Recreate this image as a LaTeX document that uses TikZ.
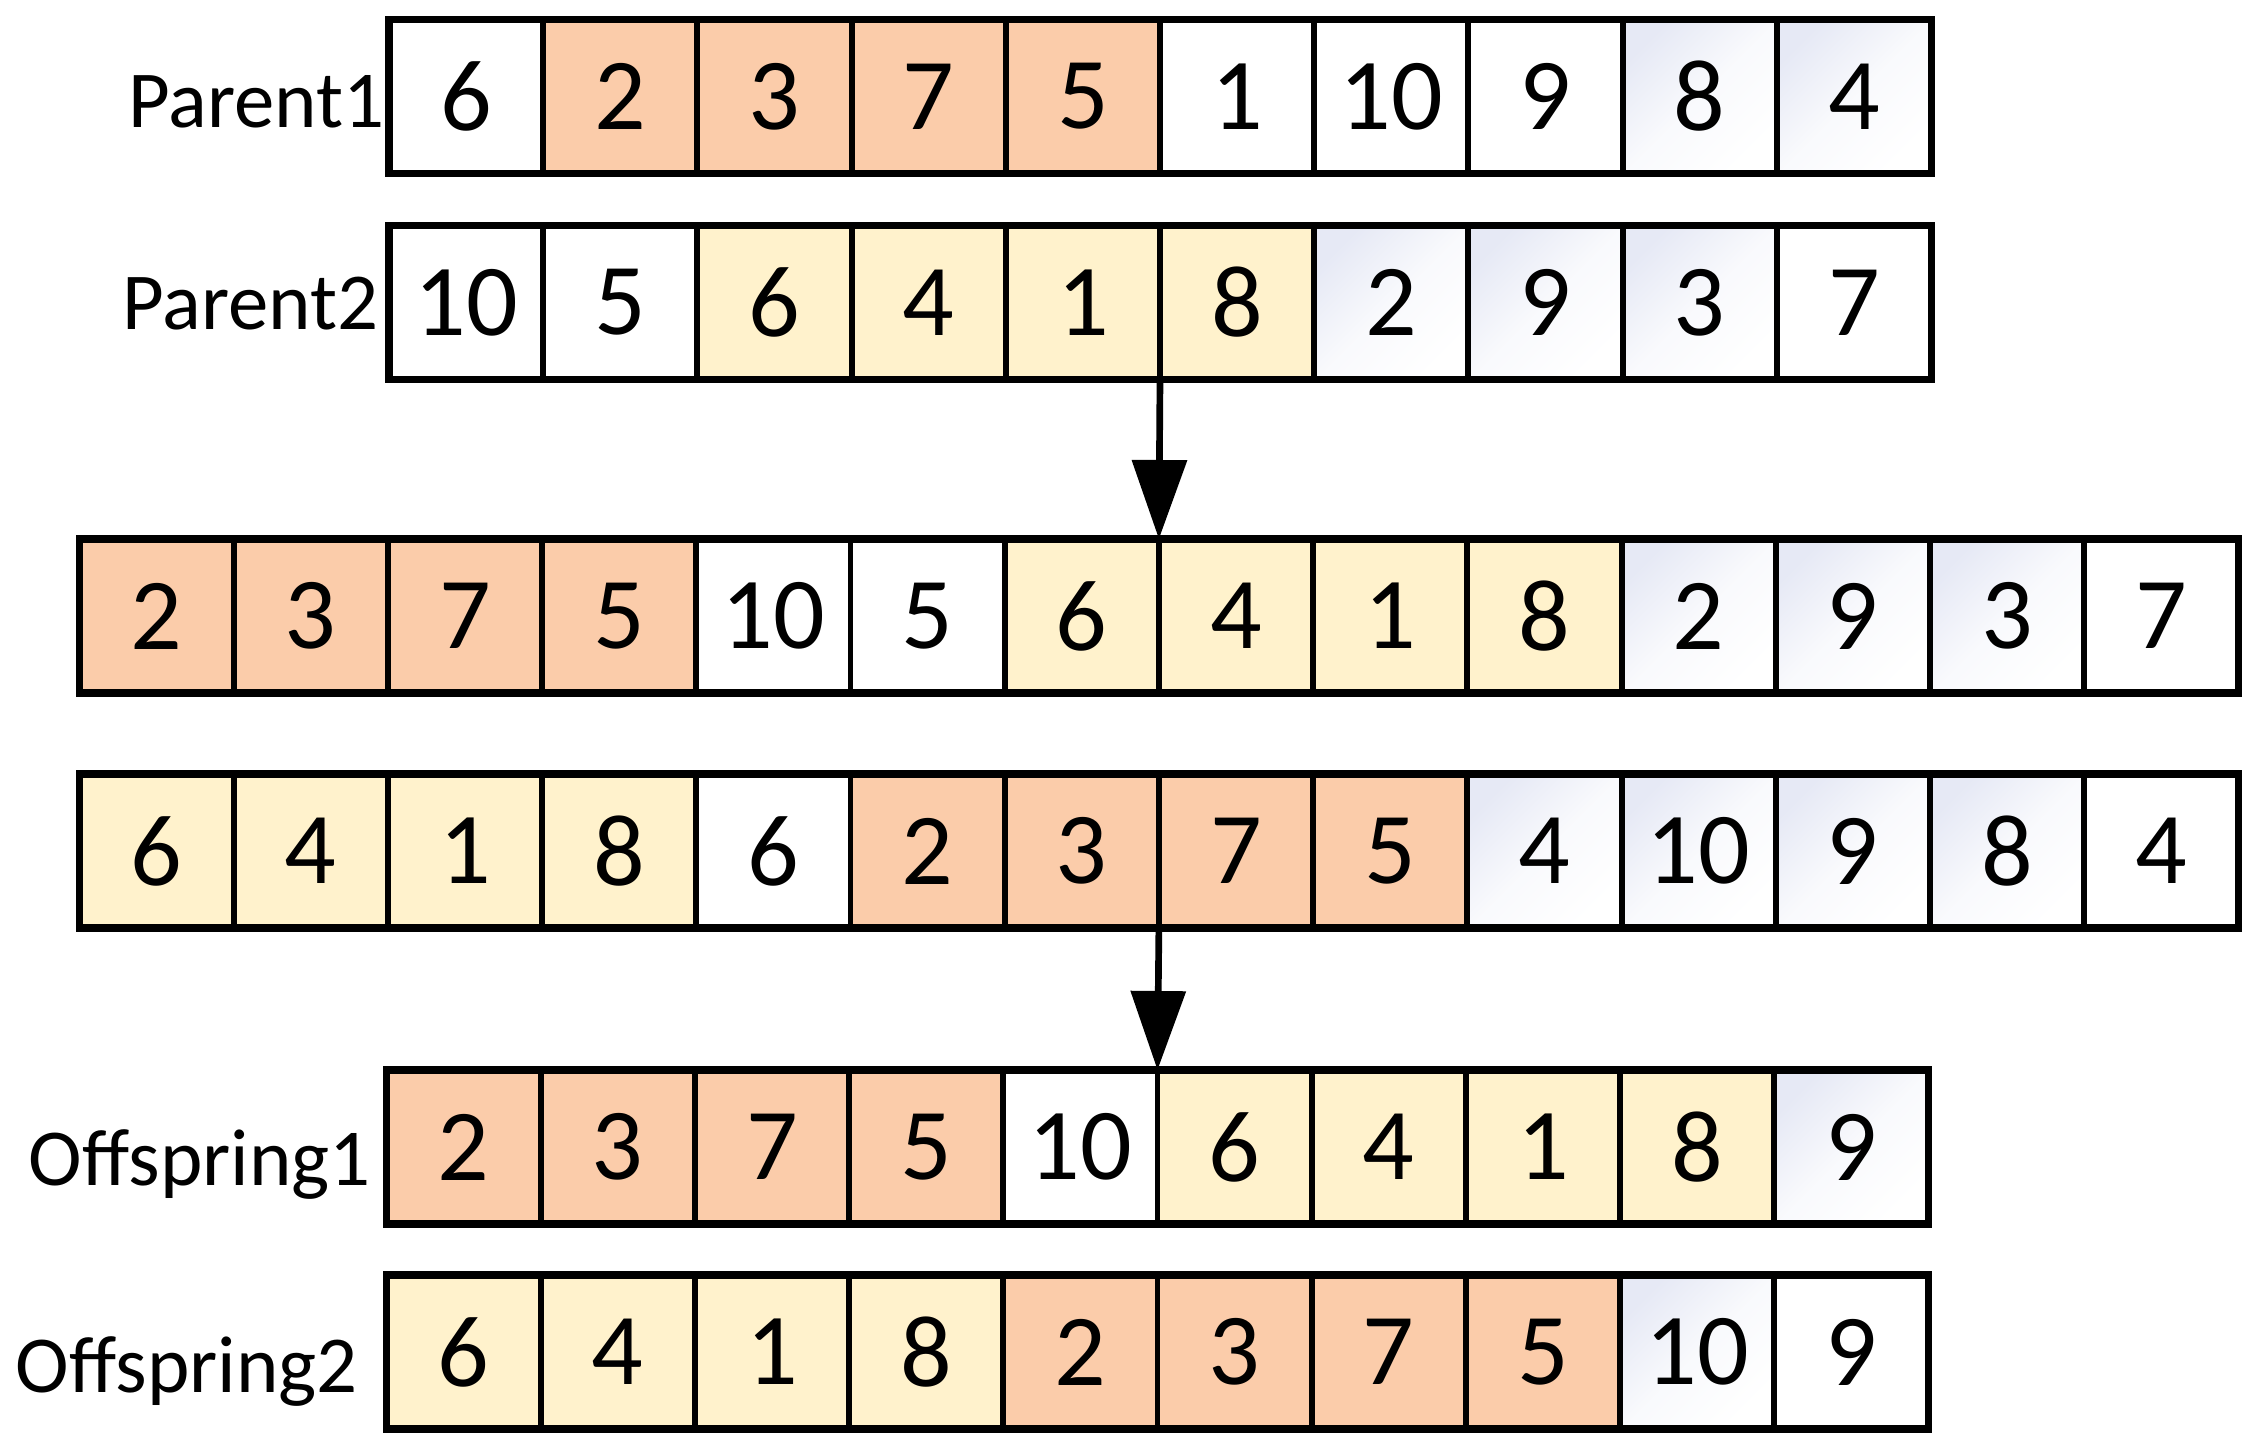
\documentclass[tikz,border=0pt]{standalone}
\usepackage{fontspec}
\setmainfont{Carlito}
\usetikzlibrary{positioning,arrows.meta}
\definecolor{orng}{HTML}{FBCCAA}
\definecolor{yelw}{HTML}{FFF2CC}
\definecolor{lav}{HTML}{E6E9F5}
\begin{document}
\begin{tikzpicture}[>={Triangle[length=0.79cm,width=0.54cm]},
    cell/.style={rectangle,draw,line width=1.7pt,minimum width=1.542cm,minimum height=1.54cm,
      inner sep=0pt,outer sep=0pt,font=\fontsize{29}{30}\selectfont},
    c-w/.style={fill=white},
    c-o/.style={fill=orng},
    c-y/.style={fill=yelw},
    c-g/.style={top color=lav,bottom color=white,middle color=lav!25,shading angle=45},
    frame/.style={draw,line width=2pt},
    lbl/.style={font=\fontsize{23}{25}\selectfont,inner sep=0pt}]
  \useasboundingbox (0,0) rectangle (22.59,14.48);
  % parents
  \foreach \v/\k [count=\i] in {6/w,2/o,3/o,7/o,5/o,1/w,10/w,9/w,8/g,4/g}
    \node[cell,c-\k] (pa-\i) at ({3.89+(\i-0.5)*1.542},13.515) {\v};
  \foreach \v/\k [count=\i] in {10/w,5/w,6/y,4/y,1/y,8/y,2/g,9/g,3/g,7/w}
    \node[cell,c-\k] (pb-\i) at ({3.89+(\i-0.5)*1.542},11.455) {\v};
  \draw[frame] (pa-1.north west) rectangle (pa-10.south east);
  \draw[frame] (pb-1.north west) rectangle (pb-10.south east);
  \node[lbl,left=0.04cm of pa-1,yshift=-0.055cm] (pa) {Parent1};
  \node[lbl,left=0.10cm of pb-1,yshift=-0.015cm] (pb) {Parent2};
  % combined strings
  \foreach \v/\k [count=\i] in {2/o,3/o,7/o,5/o,10/w,5/w,6/y,4/y,1/y,8/y,2/g,9/g,3/g,7/w}
    \node[cell,c-\k] (ca-\i) at ({0.795+(\i-0.5)*1.542},8.32) {\v};
  \foreach \v/\k [count=\i] in {6/y,4/y,1/y,8/y,6/w,2/o,3/o,7/o,5/o,4/g,10/g,9/g,8/g,4/w}
    \node[cell,c-\k] (cb-\i) at ({0.795+(\i-0.5)*1.542},5.97) {\v};
  \draw[frame] (ca-1.north west) rectangle (ca-14.south east);
  \draw[frame] (cb-1.north west) rectangle (cb-14.south east);
  % offspring
  \foreach \v/\k [count=\i] in {2/o,3/o,7/o,5/o,10/w,6/y,4/y,1/y,8/y,9/g}
    \node[cell,c-\k] (oa-\i) at ({3.865+(\i-0.5)*1.542},3.01) {\v};
  \foreach \v/\k [count=\i] in {6/y,4/y,1/y,8/y,2/o,3/o,7/o,5/o,10/g,9/w}
    \node[cell,c-\k] (ob-\i) at ({3.865+(\i-0.5)*1.542},0.96) {\v};
  \draw[frame] (oa-1.north west) rectangle (oa-10.south east);
  \draw[frame] (ob-1.north west) rectangle (ob-10.south east);
  \node[lbl,left=0.15cm of oa-1,yshift=-0.18cm] (oa) {Offspring1};
  \node[lbl,left=0.28cm of ob-1,yshift=-0.20cm] (ob) {Offspring2};
  % arrows
  \draw[->,line width=1.9pt] (pb-5.south east) -- (ca-7.north east);
  \draw[->,line width=1.9pt] (cb-7.south east) -- (oa-5.north east);
\end{tikzpicture}
\end{document}
